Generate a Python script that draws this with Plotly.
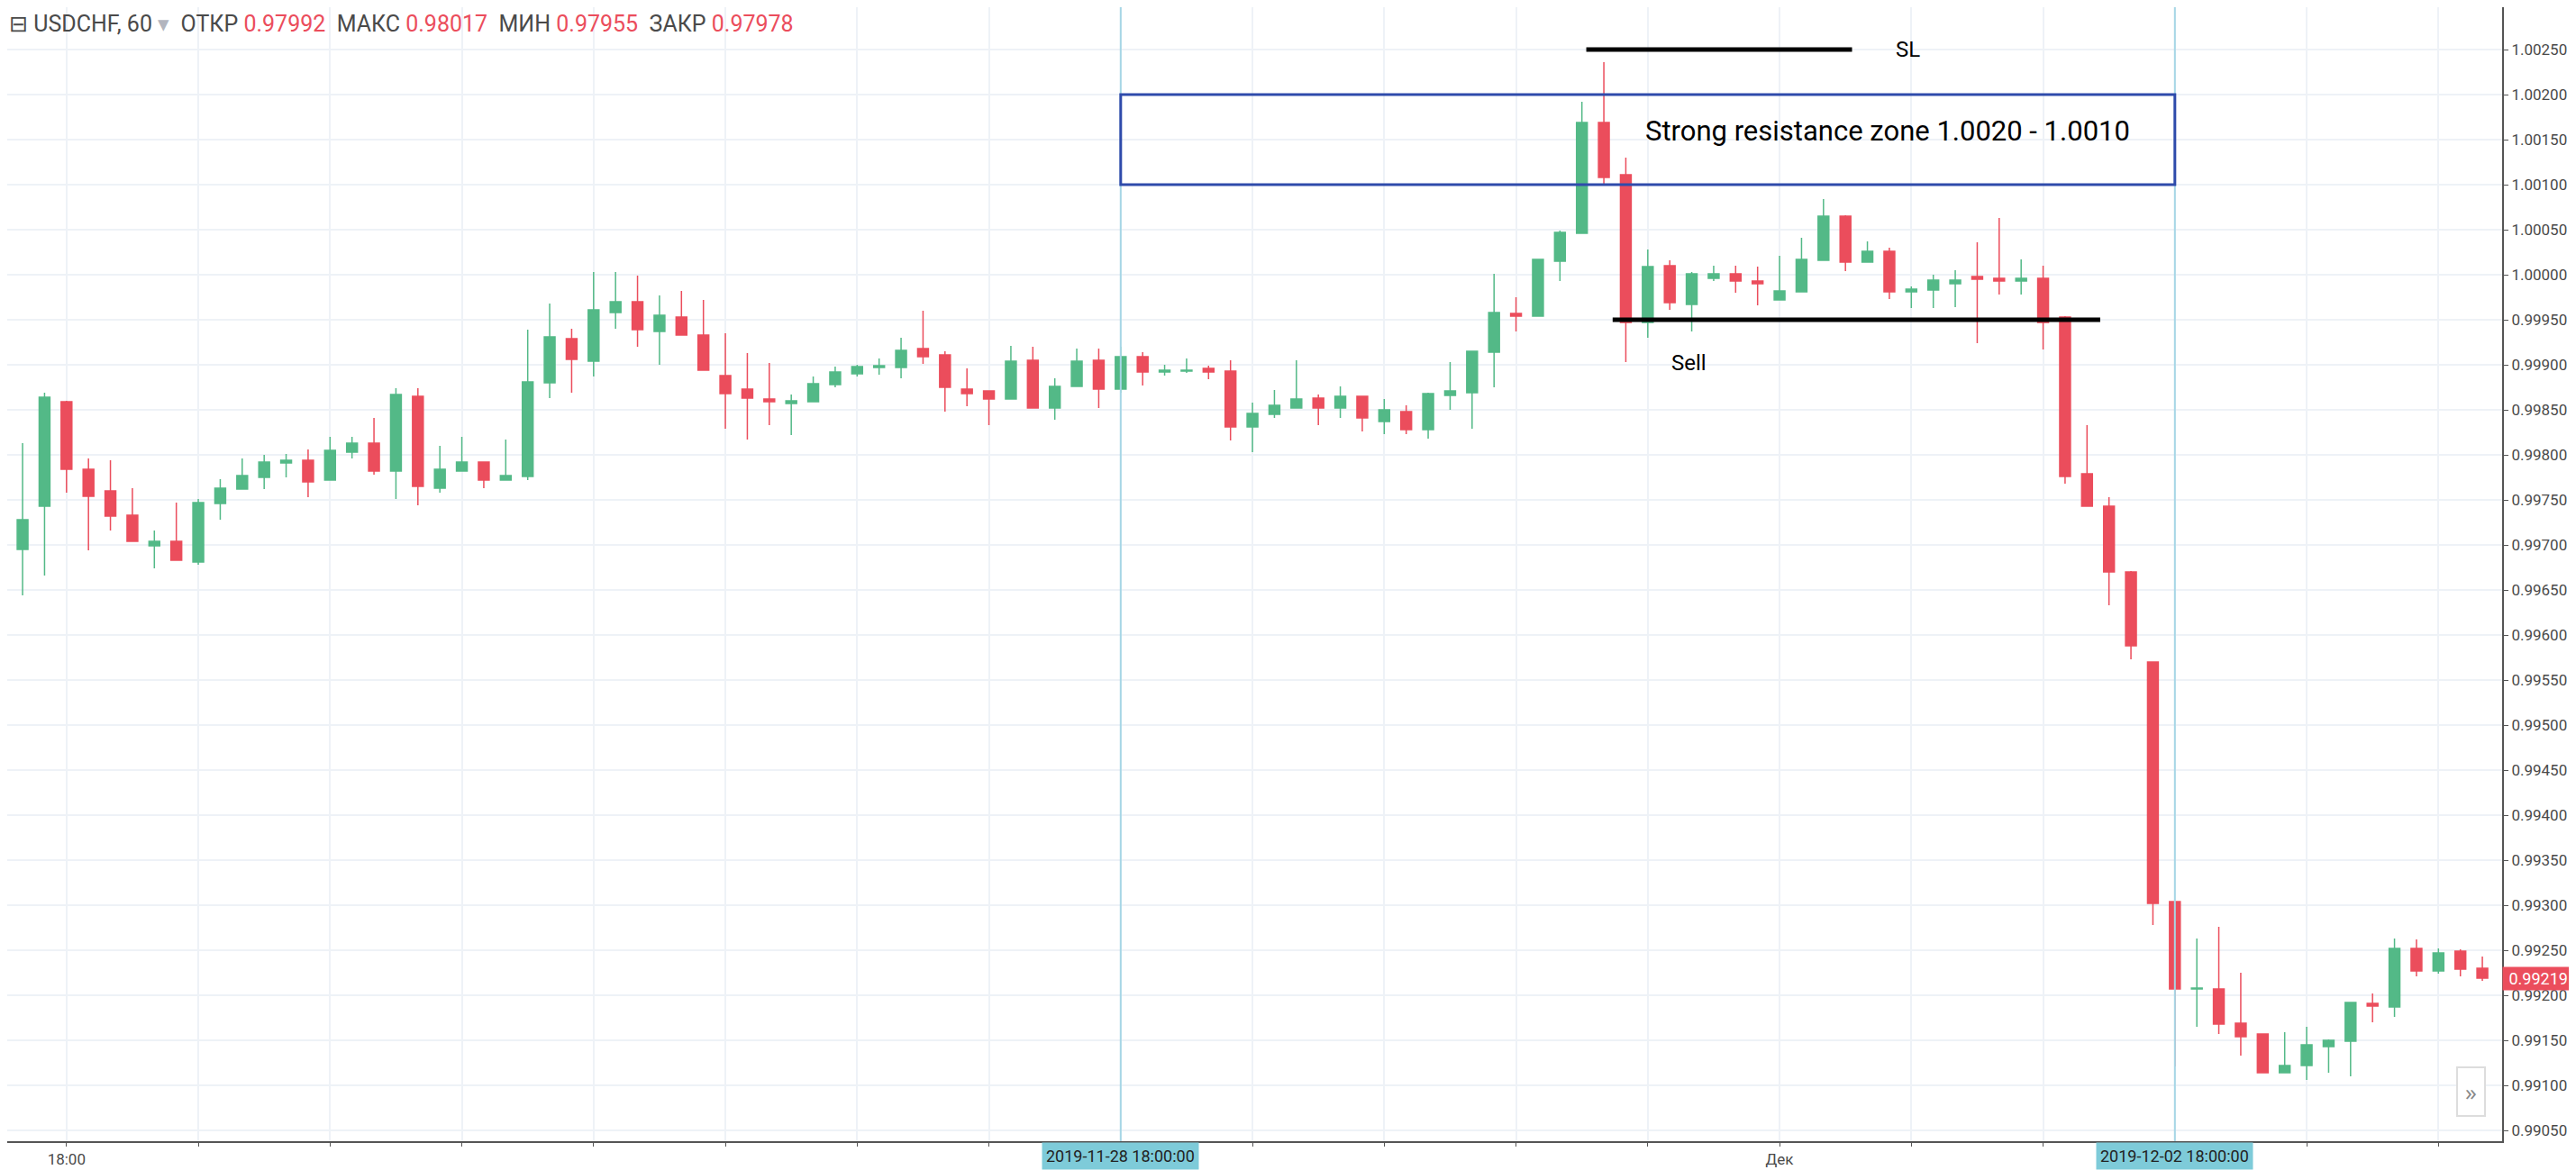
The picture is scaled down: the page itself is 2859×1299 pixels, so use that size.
import plotly.graph_objects as go

opens = [0.99695,0.99743,0.99859,0.99784,0.99760,0.99733,0.99699,0.99704,0.99681,0.99746,
0.99762,0.99775,0.99791,0.99794,0.99772,0.99803,0.99813,0.99782,0.99865,0.99763,
0.99782,0.99792,0.99772,0.99776,0.99880,0.99929,0.99904,0.99958,0.99970,0.99937,
0.99953,0.99933,0.99888,0.99873,0.99862,0.99857,0.99859,0.99878,0.99890,0.99897,
0.99897,0.99918,0.99911,0.99873,0.99871,0.99862,0.99905,0.99852,0.99876,0.99905,
0.99873,0.99909,0.99892,0.99893,0.99896,0.99893,0.99831,0.99845,0.99852,0.99863,
0.99852,0.99865,0.99837,0.99848,0.99828,0.99866,0.99869,0.99914,0.99957,0.99954,
1.00015,1.00046,1.00169,1.00111,0.99947,1.00010,0.99967,0.99996,1.00001,0.99993,
0.99972,0.99981,1.00016,1.00065,1.00014,1.00026,0.99981,0.99983,0.99990,0.99998,
0.99996,0.99993,0.99996,0.99953,0.99779,0.99743,0.99670,0.99570,0.99304,0.99207,
0.99207,0.99169,0.99157,0.99114,0.99122,0.99143,0.99149,0.99191,0.99187,0.99252,
0.99227,0.99249,0.99230]
highs = [0.99813,0.99869,0.99860,0.99796,0.99794,0.99763,0.99716,0.99747,0.99751,0.99773,
0.99796,0.99800,0.99801,0.99806,0.99820,0.99820,0.99841,0.99874,0.99874,0.99810,
0.99820,0.99792,0.99817,0.99939,0.99968,0.99940,1.00003,1.00003,0.99999,0.99977,
0.99982,0.99972,0.99935,0.99913,0.99902,0.99867,0.99887,0.99898,0.99900,0.99907,
0.99930,0.99960,0.99915,0.99896,0.99871,0.99921,0.99920,0.99885,0.99918,0.99918,
0.99920,0.99914,0.99900,0.99907,0.99899,0.99905,0.99858,0.99872,0.99905,0.99867,
0.99876,0.99865,0.99862,0.99855,0.99869,0.99903,0.99915,1.00001,0.99975,1.00017,
1.00049,1.00192,1.00236,1.00130,1.00028,1.00016,1.00003,1.00010,1.00010,1.00009,
1.00021,1.00041,1.00084,1.00066,1.00037,1.00030,0.99987,1.00000,1.00005,1.00036,
1.00063,1.00017,1.00010,0.99954,0.99833,0.99753,0.99671,0.99570,0.99304,0.99263,
0.99276,0.99225,0.99157,0.99159,0.99165,0.99151,0.99192,0.99202,0.99263,0.99262,
0.99252,0.99251,0.99243]
lows = [0.99644,0.99666,0.99758,0.99694,0.99716,0.99704,0.99674,0.99683,0.99678,0.99728,
0.99762,0.99762,0.99775,0.99753,0.99772,0.99796,0.99778,0.99751,0.99744,0.99758,
0.99782,0.99763,0.99772,0.99772,0.99863,0.99869,0.99887,0.99940,0.99920,0.99900,
0.99933,0.99894,0.99829,0.99817,0.99833,0.99822,0.99859,0.99875,0.99887,0.99889,
0.99885,0.99901,0.99848,0.99854,0.99833,0.99862,0.99852,0.99839,0.99876,0.99852,
0.99869,0.99877,0.99888,0.99891,0.99884,0.99816,0.99803,0.99841,0.99852,0.99833,
0.99841,0.99826,0.99823,0.99823,0.99818,0.99850,0.99829,0.99875,0.99937,0.99954,
0.99993,1.00046,1.00099,0.99903,0.99930,0.99961,0.99937,0.99993,0.99980,0.99966,
0.99972,0.99981,1.00016,1.00004,1.00014,0.99973,0.99963,0.99963,0.99964,0.99924,
0.99978,0.99978,0.99917,0.99768,0.99743,0.99633,0.99573,0.99278,0.99121,0.99165,
0.99157,0.99133,0.99114,0.99114,0.99106,0.99114,0.99110,0.99170,0.99176,0.99221,
0.99224,0.99221,0.99216]
closes = [0.99728,0.99864,0.99784,0.99754,0.99732,0.99704,0.99704,0.99683,0.99747,0.99763,
0.99777,0.99792,0.99794,0.99770,0.99805,0.99813,0.99782,0.99867,0.99765,0.99784,
0.99792,0.99772,0.99777,0.99881,0.99931,0.99906,0.99961,0.99970,0.99939,0.99955,
0.99933,0.99894,0.99868,0.99863,0.99859,0.99860,0.99879,0.99892,0.99898,0.99899,
0.99916,0.99909,0.99875,0.99868,0.99862,0.99904,0.99852,0.99876,0.99904,0.99873,
0.99909,0.99892,0.99894,0.99894,0.99892,0.99831,0.99846,0.99855,0.99862,0.99852,
0.99865,0.99841,0.99850,0.99828,0.99868,0.99871,0.99915,0.99958,0.99954,1.00017,
1.00047,1.00169,1.00108,0.99947,1.00009,0.99969,1.00001,1.00001,0.99993,0.99990,
0.99982,1.00017,1.00065,1.00014,1.00026,0.99981,0.99984,0.99994,0.99994,0.99995,
0.99993,0.99996,0.99947,0.99776,0.99743,0.99670,0.99588,0.99302,0.99207,0.99208,
0.99168,0.99154,0.99114,0.99122,0.99145,0.99150,0.99192,0.99188,0.99252,0.99227,
0.99247,0.99229,0.99219]
idx = list(range(len(opens)))

y_ticks = [0.99050 + 0.0005 * i for i in range(25)]
x_grid = list(range(2, 113, 6))
x_labels = {2: "18:00", 80: "Дек"}
header = ("USDCHF, 60 <span style='color:#b2b5be'>▾</span>  ОТКР <span style='color:#eb4d5c'>0.97992</span>"
          "  МАКС <span style='color:#eb4d5c'>0.98017</span>  МИН <span style='color:#eb4d5c'>0.97955</span>"
          "  ЗАКР <span style='color:#eb4d5c'>0.97978</span>")
last_price = 0.99219
zone = (1.0010, 1.0020)
sl_level, sell_level = 1.0025, 0.9995

GREEN, RED = "#53b987", "#eb4d5c"
fig = go.Figure(go.Candlestick(
    x=idx, open=opens, high=highs, low=lows, close=closes,
    increasing=dict(fillcolor=GREEN, line=dict(color=GREEN, width=1.5)),
    decreasing=dict(fillcolor=RED, line=dict(color=RED, width=1.5)),
    whiskerwidth=0, showlegend=False, hoverinfo="skip"))

for xv in (50, 98):
    fig.add_vline(x=xv, line=dict(color="#a6d6e6", width=2))

fig.add_shape(type="rect", x0=50, x1=98, y0=zone[0], y1=zone[1],
              line=dict(color="#2f4bab", width=3), fillcolor="rgba(0,0,0,0)")
fig.add_annotation(x=73.8, y=1.0016, text="Strong resistance zone 1.0020 - 1.0010", showarrow=False,
                   xanchor="left", font=dict(size=31, color="#000", family="Liberation Sans Narrow, Roboto"))
fig.add_shape(type="line", x0=71.2, x1=83.3, y0=sl_level, y1=sl_level, line=dict(color="black", width=5))
fig.add_annotation(x=85.2, y=sl_level, text="SL", showarrow=False, xanchor="left",
                   font=dict(size=24, color="#000", family="Liberation Sans Narrow, Roboto"))
fig.add_shape(type="line", x0=72.4, x1=94.6, y0=sell_level, y1=sell_level, line=dict(color="black", width=5))
fig.add_annotation(x=75.0, y=0.99902, text="Sell", showarrow=False, xanchor="left",
                   font=dict(size=24, color="#000", family="Liberation Sans Narrow, Roboto"))

fig.add_annotation(xref="paper", yref="paper", x=0.0, y=0.9985, xanchor="left", yanchor="top",
                   text="⊟ " + header, showarrow=False,
                   font=dict(size=25, color="#4a4a4a", family="Roboto"))
for xv, txt in ((50, "2019-11-28 18:00:00"), (98, "2019-12-02 18:00:00")):
    fig.add_annotation(x=xv, yref="paper", y=-0.001, yanchor="top", text=txt, showarrow=False,
                       bgcolor="#7ecbd9", font=dict(size=18, color="#222", family="Roboto"),
                       borderpad=4)
fig.add_annotation(xref="paper", x=1.0, xanchor="left", y=last_price, text=" %.5f " % last_price,
                   showarrow=False, bgcolor=RED, font=dict(size=18, color="white", family="Roboto"),
                   borderpad=2)
fig.add_annotation(x=111.5, y=0.99093, text="»", showarrow=False, bgcolor="white",
                   bordercolor="#dddddd", borderwidth=2, borderpad=8,
                   font=dict(size=26, color="#888"))

fig.update_xaxes(range=[-0.7, 112.9], tickvals=x_grid,
                 ticktext=[x_labels.get(v, "") for v in x_grid],
                 showgrid=True, gridcolor="#eef2f7", gridwidth=1.5, zeroline=False,
                 rangeslider_visible=False, ticks="outside", ticklen=4, tickcolor="#555",
                 showline=True, linecolor="#555", linewidth=2,
                 tickfont=dict(size=17, color="#4a4a4a", family="Roboto"))
fig.update_yaxes(range=[0.99038, 1.00297], side="right", tickvals=y_ticks,
                 ticktext=["%.5f" % v for v in y_ticks], showgrid=True, gridcolor="#eef2f7",
                 gridwidth=1.5, zeroline=False, ticks="outside", ticklen=5, tickcolor="#555",
                 showline=True, linecolor="#555", linewidth=2,
                 tickfont=dict(size=17, color="#4a4a4a", family="Roboto"))
fig.update_layout(width=2859, height=1299, margin=dict(l=0, r=90, t=0, b=40),
                  plot_bgcolor="white", paper_bgcolor="white")
fig.write_html("out.html")
